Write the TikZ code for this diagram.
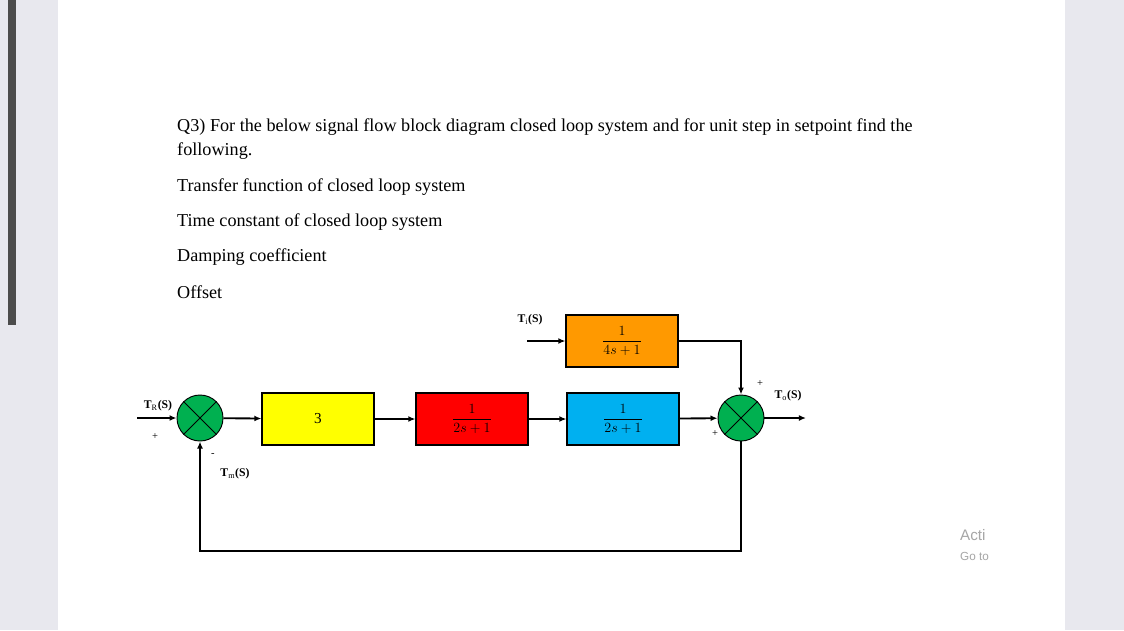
\documentclass[tikz,border=0pt]{standalone}
\usepackage{amsmath}
\usepackage{fontspec}
\setmainfont{Liberation Serif}
\newfontfamily\winfont{Liberation Sans}
\usetikzlibrary{arrows.meta}
\definecolor{sumgreen}{RGB}{0,176,80}
\definecolor{blkyellow}{RGB}{255,255,0}
\definecolor{blkred}{RGB}{255,0,0}
\definecolor{blkblue}{RGB}{0,176,240}
\definecolor{blkorange}{RGB}{255,153,0}
\definecolor{pagegray}{RGB}{232,232,238}
\begin{document}
\begin{tikzpicture}[x=0.03cm,y=-0.03cm]

\tikzset{block/.style = {draw,line width=1pt,minimum width=112*0.03cm,minimum height=52*0.03cm,inner sep=0pt,font=\fontsize{13}{14}\selectfont}}
\tikzset{sum/.style = {draw,circle,fill=sumgreen,line width=0.8pt,minimum size=46*0.03cm,inner sep=0pt}}
\tikzset{edge/.style = {line width=1.6pt,-{Latex[length=6pt,width=5pt]}}}
\tikzset{wire/.style = {line width=1.6pt}}
\tikzset{lbl/.style = {font=\bfseries\fontsize{10}{11}\selectfont,inner sep=0pt}}
\tikzset{txt/.style = {anchor=west,inner sep=0pt,font=\fontsize{15.5}{17}\selectfont}}

% page
\fill[pagegray] (0,0) rectangle (1124,630);
\fill[white] (58,0) rectangle (1065,630);
\fill[black!70] (8,0) rectangle (16,325);
\useasboundingbox (0,0) rectangle (1124,630);

% question text
\node[txt] (q1) at (177,127) {Q3) For the below signal flow block diagram closed loop system and for unit step in setpoint find the};
\node[txt] (q2) at (177,151) {following.};
\node[txt] (q3) at (177,187) {Transfer function of closed loop system};
\node[txt] (q4) at (177,222) {Time constant of closed loop system};
\node[txt] (q5) at (177,257) {Damping coefficient};
\node[txt] (q6) at (177,292) {Offset};

% blocks
\node[sum] (s1) at (200,418) {};
\node[block,fill=blkyellow] (g1) at (318,419) {3};
\node[block,fill=blkred] (g2) at (472,419) {$\dfrac{1}{2s+1}$};
\node[block,fill=blkblue] (g3) at (623,419) {$\dfrac{1}{2s+1}$};
\node[block,fill=blkorange] (g4) at (622,341) {$\dfrac{1}{4s+1}$};
\node[sum] (s2) at (741,418) {};
\foreach \s in {s1,s2}{
  \draw[line width=0.8pt] (\s.north west) -- (\s.south east);
  \draw[line width=0.8pt] (\s.north east) -- (\s.south west);
}

% labels
\node[lbl] (tr) at (158,406) {T$_\mathrm{R}$(S)};
\node[lbl] (ti) at (530,320) {T$_\mathrm{i}$(S)};
\node[lbl] (to) at (788,396) {T$_\mathrm{o}$(S)};
\node[lbl] (tm) at (235,474) {T$_\mathrm{m}$(S)};
\node[font=\small] (p1) at (155,437) {+};
\node[font=\small] (m1) at (213,455) {-};
\node[font=\small] (p2) at (760,384) {+};
\node[font=\small] (p3) at (715,434) {+};

% inputs and outputs
\coordinate (in) at (137,418);
\coordinate (out) at (806,418);
\coordinate (din) at (527,341);
\draw[edge] (in) -- (s1);
\draw[edge] (s2) -- (out);
\draw[edge] (din) -- (g4);

% forward path
\draw[edge] (s1) -- (g1);
\draw[edge] (g1) -- (g2);
\draw[edge] (g2) -- (g3);
\draw[edge] (g3) -- (s2);
\draw[edge] (g4.east) -| (s2.north);

% feedback
\coordinate (fb) at (741,551);
\draw[edge] (s2.south) -- (fb) -| (s1.south);

% watermark
\node[anchor=west,text=black!35,font=\winfont\fontsize{13}{14}\selectfont] (w1) at (956,535) {Acti};
\node[anchor=west,text=black!35,font=\winfont\fontsize{10}{11}\selectfont] (w2) at (956,556) {Go to};
\end{tikzpicture}
\end{document}
